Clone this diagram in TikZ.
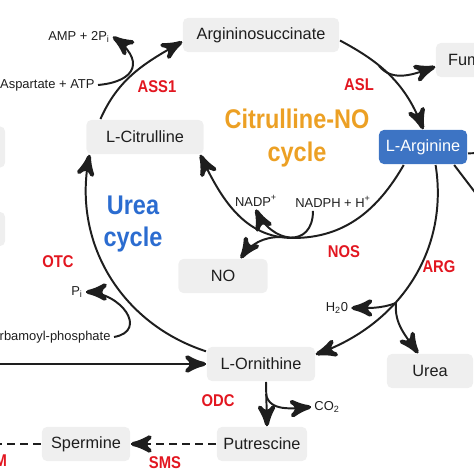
\documentclass[tikz,border=0pt]{standalone}
\usepackage{fontspec}
\setmainfont{Liberation Sans}
\newfontfamily\enzfont{Liberation Sans}[FakeStretch=0.87]
\usepackage{tikz}
\usetikzlibrary{arrows}
\usetikzlibrary{decorations.markings}
\definecolor{boxgray}{RGB}{239,239,239}
\definecolor{argblue}{RGB}{61,116,196}
\definecolor{ureablue}{RGB}{43,108,208}
\definecolor{citorange}{RGB}{236,160,36}
\definecolor{enzred}{RGB}{226,22,32}
\definecolor{ink}{RGB}{30,30,30}
\tikzset{->/.style = {decoration={markings,
                                  mark=at position 0.999 with {\arrow[scale=2.1]{stealth'}}},
                      postaction={decorate}}}
\tikzset{metab/.style = {fill=boxgray, rounded corners=0.12cm, minimum height=0.85cm,
                         inner sep=0pt, text=ink, font=\fontsize{11.6}{13}\selectfont}}
\tikzset{enz/.style = {text=enzred, font=\enzfont\bfseries\fontsize{12.1}{14}\selectfont}}
\tikzset{side/.style = {text=ink, inner sep=1pt, outer sep=1.5pt,
                        font=\fontsize{9.2}{11}\selectfont}}
\tikzset{cyc/.style = {align=center, font=\enzfont\bfseries\fontsize{19.2}{22.8}\selectfont}}
\tikzset{dashline/.style = {dash pattern=on 5.7pt off 3.6pt}}

\begin{document}
\begin{tikzpicture}[x=0.025cm, y=0.025cm, line width=1.4pt, ink]
      \useasboundingbox (0,0) rectangle (474,474);

      \node[metab, minimum width=3.9cm] (argsuc) at (261,439) {Argininosuccinate};
      \node[metab, minimum width=2.35cm] (fum) at (483,414) {Fumarate};
      \node[metab, minimum width=2.2cm, fill=argblue, text=white] (larg) at (423,327) {L-Arginine};
      \node[metab, minimum width=2.925cm] (lcit) at (145,337) {L-Citrulline};
      \node[metab, minimum width=2.225cm] (nox) at (223,198) {NO};
      \node[metab, minimum width=2.7cm] (lorn) at (261,110) {L-Ornithine};
      \node[metab, minimum width=2.15cm] (urea) at (430,103) {Urea};
      \node[metab, minimum width=2.25cm] (put) at (262,30) {Putrescine};
      \node[metab, minimum width=2.2cm] (sperm) at (86,30) {Spermine};
      \node[metab, minimum width=2.75cm, minimum height=1.025cm] (lefta) at (-50,327) {};
      \node[metab, minimum width=2.75cm] (leftb) at (-50,245) {};

      \node[cyc, text=ureablue] (ureacyc) at (133,250) {Urea\\cycle};
      \node[cyc, text=citorange] (citcyc) at (297,336) {Citrulline-NO\\cycle};

      \node[enz] (ass) at (157,387) {ASS1};
      \node[enz] (asl) at (359,389) {ASL};
      \node[enz] (nos) at (344,222) {NOS};
      \node[enz] (arg) at (439,207) {ARG};
      \node[enz] (otc) at (58,212) {OTC};
      \node[enz] (odc) at (218,73) {ODC};
      \node[enz] (sms) at (165,11) {SMS};
      \node[enz, anchor=east, inner sep=0pt] (cut) at (8,13) {M};

      \node[side] (amp) at (79,437) {AMP + 2P\textsubscript{i}};
      \node[side, anchor=east] (asp) at (98,389) {Aspartate + ATP};
      \node[side] (nadp) at (256,273) {NADP\textsuperscript{+}};
      \node[side] (nadph) at (333,272) {NADPH + H\textsuperscript{+}};
      \node[side] (water) at (337,166) {H\textsubscript{2}0};
      \node[side] (pi) at (77,182) {P\textsubscript{i}};
      \node[side, anchor=east] (carb) at (114,137) {Carbamoyl-phosphate};
      \node[side] (co) at (327,67) {CO\textsubscript{2}};

      \coordinate (fumbr) at (379,408);
      \coordinate (nosbot) at (293,236);
      \coordinate (nobr) at (281,237);
      \coordinate (argbr) at (396,171);
      \coordinate (odcbr) at (266,80);
      \coordinate (argend) at (485,321);
      \coordinate (argdiag) at (490,262);
      \coordinate (ornin) at (-5,110);
      \coordinate (spermout) at (-5,30);

      \draw [->] (lorn.167) to[out=162, in=-102] ([xshift=0.1cm]lcit.south west);
      \draw [->] (lcit.158) to[out=66, in=209] (argsuc.185);
      \draw [->] (argsuc.-4) to[out=-28, in=110] (larg.north);
      \draw [->] (larg.-55) to[out=-81, in=19] (lorn.10);
      \draw [->] (larg.223) to[out=-120, in=0] (nosbot) to[out=180, in=-65] (lcit.-18);

      \draw [->] (fumbr) to[out=-50, in=200] (fum.188);
      \draw [->] (asp.east) to[out=5, in=-35, looseness=2] (amp.east);
      \draw [->] ([xshift=-0.5cm]nadph.south) to[out=-90, in=-66, looseness=1.7] (nadp.south);
      \draw [->] (nobr) to[out=180, in=56] (nox.45);
      \draw [->] (argbr) to[out=200, in=0] (water.east);
      \draw [->] (argbr) to[out=-95, in=125] (urea.124);
      \draw [->] (carb.east) to[out=10, in=0, looseness=1.7] (pi.east);
      \draw [->] ([xshift=0.125cm]lorn.south) -- ([xshift=0.125cm]put.north);
      \draw [->] (odcbr) to[out=-80, in=185] (co.west);

      \draw [->, dashline] (put.west) -- (sperm.east);
      \draw [dashline] (sperm.west) -- (spermout);
      \draw [->] (ornin) -- (lorn.west);
      \draw (larg.-8) -- (argend);
      \draw (larg.-30) -- (argdiag);
    \end{tikzpicture}
\end{document}
